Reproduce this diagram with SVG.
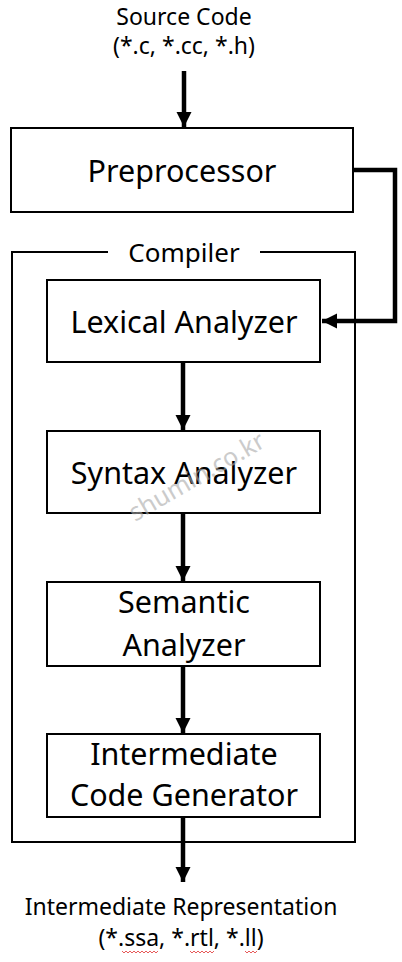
<svg xmlns="http://www.w3.org/2000/svg" width="402" height="962" viewBox="0 0 402 962">
<defs>
<style>
.box{fill:#fff;stroke:#000;stroke-width:2}
.t{font-family:"Noto Sans","Open Sans","DejaVu Sans",sans-serif;fill:#000;text-anchor:middle}
.big{font-size:30.5px}
.mid{font-size:23px}
.cmp{font-size:26px}
.wire{fill:none;stroke:#000;stroke-width:4.5;stroke-linejoin:miter}
.wm{font-family:"Noto Sans","DejaVu Sans",sans-serif;font-size:25px;fill:#aaa;opacity:0.6}
.sq{fill:none;stroke:#e03030;stroke-width:0.8}
</style>
<marker id="ah" viewBox="0 0 10 10" refX="10" refY="5" markerWidth="3.4" markerHeight="3.4" orient="auto" markerUnits="strokeWidth">
<path d="M0,0 L10,5 L0,10 Z" fill="#000"/>
</marker>
</defs>
<rect width="402" height="962" fill="#fff"/>

<g id="source">
<text class="t mid" x="184" y="25">Source Code</text>
<text class="t mid" x="184" y="54">(*.c, *.cc, *.h)</text>
</g>

<g id="preprocessor">
<rect class="box" x="11" y="128" width="342" height="84"/>
<text class="t big" x="182" y="182">Preprocessor</text>
</g>

<g id="compiler">
<path d="M108,252 H12 V842 H355 V252 H260" fill="none" stroke="#000" stroke-width="2"/>
<text class="t cmp" x="184" y="262">Compiler</text>
</g>

<g id="lexical">
<rect class="box" x="47" y="280" width="273" height="82"/>
<text class="t big" x="184" y="333">Lexical Analyzer</text>
</g>

<g id="syntax">
<rect class="box" x="47" y="431" width="273" height="82"/>
<text class="t big" x="184" y="484">Syntax Analyzer</text>
</g>

<g id="semantic">
<rect class="box" x="47" y="582" width="273" height="84"/>
<text class="t big" x="184" y="613">Semantic</text>
<text class="t big" x="184" y="656">Analyzer</text>
</g>

<g id="intermediate">
<rect class="box" x="47" y="734" width="273" height="83"/>
<text class="t big" x="184" y="765">Intermediate</text>
<text class="t big" x="184" y="806">Code Generator</text>
</g>

<g id="output">
<text class="t mid" x="181" y="915">Intermediate Representation</text>
<text class="t mid" x="181" y="946">(*.ssa, *.rtl, *.ll)</text>
</g>

<g id="connectors">
<line class="wire" x1="184" y1="71" x2="184" y2="127" marker-end="url(#ah)"/>
<path class="wire" d="M353,170 H395 V321 H322" marker-end="url(#ah)"/>
<line class="wire" x1="183" y1="362" x2="183" y2="430" marker-end="url(#ah)"/>
<line class="wire" x1="183" y1="513" x2="183" y2="581" marker-end="url(#ah)"/>
<line class="wire" x1="183" y1="666" x2="183" y2="733" marker-end="url(#ah)"/>
<line class="wire" x1="183" y1="817" x2="183" y2="882" marker-end="url(#ah)"/>
</g>

<g id="watermark">
<text class="wm" transform="translate(135,522) rotate(-30)">shumin.co.kr</text>
</g>

<g id="spellmarks">
<path class="sq" d="M122,951 l2,2 l2,-2 l2,2 l2,-2 l2,2 l2,-2 l2,2 l2,-2 l2,2 l2,-2 l2,2 l2,-2 l2,2 l2,-2 l2,2 l2,-2 l2,2 l2,-2"/>
<path class="sq" d="M190,951 l2,2 l2,-2 l2,2 l2,-2 l2,2 l2,-2 l2,2 l2,-2 l2,2 l2,-2 l2,2 l2,-2"/>
<path class="sq" d="M245,951 l2,2 l2,-2 l2,2 l2,-2 l2,2 l2,-2"/>
</g>
</svg>
